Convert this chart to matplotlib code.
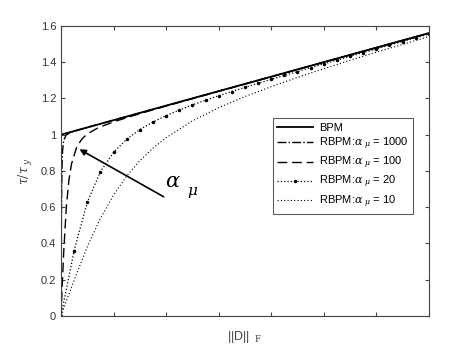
import numpy as np
import matplotlib
matplotlib.use("Agg")
import matplotlib.pyplot as plt
from matplotlib.ticker import FormatStrFormatter

# values (x in tick units 0..7, y = tau/tau_y)
x_bpm = [0, 0, 7]
y_bpm = [0, 1.0, 1.56]

x_1000 = [0, 0.002, 0.005, 0.01, 0.015, 0.02, 0.03, 0.05, 0.1, 0.2, 0.5, 1, 7]
y_1000 = [0, 0.144, 0.341, 0.588, 0.737, 0.825, 0.911, 0.968, 0.999, 1.014, 1.040, 1.080, 1.56]

x_100 = [0, 0.02, 0.05, 0.1, 0.15, 0.2, 0.3, 0.4, 0.5, 0.7, 1, 1.5, 2, 3, 4, 5, 6, 7]
y_100 = [0, 0.145, 0.345, 0.595, 0.748, 0.839, 0.933, 0.977, 1.004, 1.037, 1.071, 1.116,
         1.158, 1.239, 1.319, 1.400, 1.480, 1.560]

x_20 = [0, 0.25, 0.5, 0.75, 1.0, 1.25, 1.5, 1.75, 2.0, 2.25, 2.5, 2.75, 3.0, 3.25, 3.5,
        3.75, 4.0, 4.25, 4.5, 4.75, 5.0, 5.25, 5.5, 5.75, 6.0, 6.25, 6.5, 6.75, 7.0]
y_20 = [0, 0.361, 0.627, 0.796, 0.903, 0.975, 1.028, 1.070, 1.105, 1.136, 1.164, 1.190,
        1.215, 1.238, 1.261, 1.283, 1.305, 1.327, 1.348, 1.370, 1.391, 1.411, 1.432,
        1.453, 1.473, 1.494, 1.514, 1.535, 1.555]

x_10 = [0, 0.1, 0.25, 0.5, 0.75, 1.0, 1.25, 1.5, 1.75, 2.0, 2.5, 3.0, 3.5, 4.0, 4.5,
        5.0, 5.5, 6.0, 6.5, 7.0]
y_10 = [0, 0.080, 0.198, 0.381, 0.538, 0.667, 0.772, 0.856, 0.926, 0.983, 1.076, 1.149,
        1.210, 1.265, 1.316, 1.364, 1.410, 1.455, 1.498, 1.541]

labels = ['BPM', r'RBPM:$\alpha_{\ \mu}$ = 1000', r'RBPM:$\alpha_{\ \mu}$ = 100',
          r'RBPM:$\alpha_{\ \mu}$ = 20', r'RBPM:$\alpha_{\ \mu}$ = 10']

plt.rcParams['font.family'] = ['Liberation Sans', 'DejaVu Sans']
plt.rcParams['mathtext.fontset'] = 'dejavuserif'

fig = plt.figure(figsize=(4.74, 3.55), dpi=100)
ax = fig.add_axes([0.1287, 0.11, 0.776, 0.817])

ax.plot(x_bpm, y_bpm, 'k-', lw=1.3, label=labels[0])
ax.plot(x_1000, y_1000, color='k', ls='-.', lw=1.0, label=labels[1])
ax.plot(x_100, y_100, color='k', ls=(0, (7, 3.5)), lw=1.0, label=labels[2])
ax.plot(x_20, y_20, color='k', ls=':', lw=0.9, marker='.', ms=3, label=labels[3])
ax.plot(x_10, y_10, color='k', ls=(0, (1, 2)), lw=0.8, label=labels[4])

ax.set_xlim(0, 7)
ax.set_ylim(0, 1.6)
ax.set_xticks(np.arange(0, 8))
ax.set_xticklabels([])
ax.set_yticks(np.arange(0, 1.61, 0.2))
ax.yaxis.set_major_formatter(FormatStrFormatter('%g'))
ax.tick_params(direction='in', top=True, right=True, length=3, labelsize=8,
               colors='#444444', labelcolor='#333333')
for s in ax.spines.values():
    s.set_color('#444444')
    s.set_linewidth(0.8)

ax.set_ylabel(r'$\tau/\tau_{\ y}$', fontsize=9, color='#444444', labelpad=4)
ax.set_xlabel(r'||D||$_{\ \ \mathrm{F}}$', fontsize=9, color='#444444', labelpad=6)

# arrow with alpha_mu label
ax.annotate('', xy=(0.305, 0.927), xytext=(2.0, 0.65),
            arrowprops=dict(arrowstyle='-|>', color='k', lw=1.2, mutation_scale=9))
ax.text(1.98, 0.69, r'$\alpha$', fontsize=15, ha='left', va='bottom')
ax.text(2.4, 0.64, r'$\mu$', fontsize=11, ha='left', va='bottom')

leg = ax.legend(loc='upper left', bbox_to_anchor=(0.56, 0.70), fontsize=8,
                handlelength=3.2, frameon=True, fancybox=False, edgecolor='#333333',
                borderpad=0.4, labelspacing=0.25, handletextpad=0.6)
leg.get_frame().set_linewidth(0.8)

fig.savefig('out.png', dpi=100)
